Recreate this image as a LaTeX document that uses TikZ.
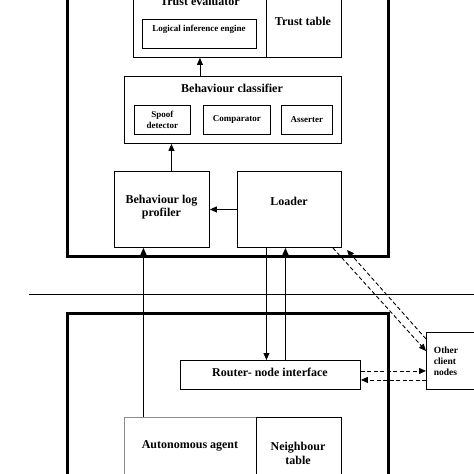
\documentclass[tikz,border=0pt]{standalone}
\usepackage{fontspec}
\setmainfont{Liberation Serif}
\usetikzlibrary{arrows.meta}
\begin{document}
\begin{tikzpicture}[x=1pt,y=-1pt,
  box/.style={draw=black,line width=0.9pt,anchor=north west,inner sep=0pt},
  thick box/.style={draw=black,line width=3pt},
  big/.style={font=\fontsize{12}{14}\selectfont\bfseries,align=center},
  small/.style={font=\fontsize{9}{10.5}\selectfont\bfseries,align=center},
  arr/.style={line width=0.9pt,-{Triangle[length=7pt,width=6pt]}},
  darr/.style={line width=0.9pt,dash pattern=on 4pt off 2.5pt,-{Triangle[length=7pt,width=6pt]}}]
\useasboundingbox (0,0) rectangle (474,474);
\clip (0,0) rectangle (474,474);
% outer thick frames
\draw[thick box] (67,-10) rectangle (388,256);
\draw[thick box] (67,313) rectangle (388,490);
% divider
\coordinate (dl) at (29,294);
\coordinate (dr) at (480,294);
\draw[line width=0.9pt] (dl) -- (dr);
% upper components
\node[box,minimum width=133,minimum height=67] (te) at (133,-10) {};
\node[big] (tetxt) at (200,1) {Trust evaluator};
\node[box,minimum width=75,minimum height=67] (tt) at (266,-10) {};
\node[big] at (303,21) {Trust table};
\node[box,minimum width=114,minimum height=29,small] (lie) at (142,19) {};
\node[small] at (199,29) {Logical inference engine};
\node[box,minimum width=217,minimum height=67] (bc) at (124,76) {};
\node[big] at (232,88) {Behaviour classifier};
\node[box,minimum width=56,minimum height=29] (sd) at (134,105) {};
\node[small] at (sd.center) {Spoof\\detector};
\node[box,minimum width=67,minimum height=29] (cmp) at (203,105) {};
\node[small] at (cmp.center) {Comparator};
\node[box,minimum width=51,minimum height=29] (ass) at (281,105) {};
\node[small] at (ass.center) {Asserter};
\node[box,minimum width=95,minimum height=76] (prof) at (114,171) {};
\node[big,font=\fontsize{12}{13.5}\selectfont\bfseries] at (161.5,207) {Behaviour log\\profiler};
\node[box,minimum width=104,minimum height=76] (loader) at (237,171) {};
\node[big] at (289,201) {Loader};
% lower components
\node[box,minimum width=180,minimum height=29] (router) at (180,360) {};
\node[big] at (270,372) {Router- node interface};
\node[box,draw=black!45,minimum width=132,minimum height=70] (agent) at (124,417) {};
\node[big] at (190,446) {Autonomous agent};
\node[box,minimum width=85,minimum height=70] (nt) at (256,417) {};
\node[big] at (298,453) {Neighbour\\table};
\node[box,minimum width=60,minimum height=57] (other) at (426,332) {};
\node[small,font=\fontsize{9.5}{11}\selectfont\bfseries,align=left] at (446,361) {Other\\client\\nodes};
% connectors
\draw[arr] (bc.north -| te.south) -- (te.south);
\draw[arr] ([xshift=9.5]prof.north) -- ([xshift=9.5]prof.north |- bc.south);
\draw[arr] (loader.west) -- (prof.west -| prof.east);
\draw[arr] ([xshift=-47]agent.north) -- ([xshift=-18.5]prof.south);
\draw[arr] ([xshift=-23]loader.south) -- ([xshift=-23]loader.south |- router.north);
\draw[arr] ([xshift=-4]loader.south |- router.north) -- ([xshift=-4]loader.south);
\coordinate (ltip) at (347,250);
\draw[darr] ([xshift=-9]loader.south east) -- ([yshift=10]other.west);
\draw[darr] ([yshift=22]other.west) -- (ltip);
\draw[darr] ([yshift=4]router.east) -- ([yshift=4]router.east -| other.west);
\draw[darr] ([yshift=-5]router.east -| other.west) -- ([yshift=-5]router.east);
\end{tikzpicture}
\end{document}
